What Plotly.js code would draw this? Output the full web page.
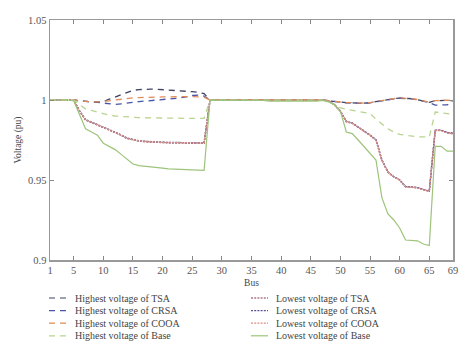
<!DOCTYPE html>
<html>
<head>
<meta charset="utf-8">
<script src="https://cdn.plot.ly/plotly-3.0.1.min.js"></script>
<style>html,body{margin:0;padding:0;background:#fff;}#chart{width:474px;height:358px;}</style>
</head>
<body>
<div id="chart"></div>
<script>
var bus = [];
for (var i = 1; i <= 69; i++) bus.push(i);

var flat28to46 = [1,1,1,1,1,1,1,1, 0.9999,0.9999,0.9998,0.9998,0.9998,0.9998,0.9998,0.9998,0.9998,0.9998,0.9998];

var highTSA = [1,1,1,1,1, 0.9995,0.999,0.9988,0.9988,0.999,1.0005,1.002,1.0035,1.005,1.006,1.0065,1.0068,1.0068,1.0067,1.0065,1.0063,1.006,1.0058,1.0055,1.0052,1.0048,1.004]
  .concat(flat28to46)
  .concat([1,0.9995,0.999,0.9985,0.9983,0.9982,0.998,0.998,0.9983,0.999,0.9997,1.0003,1.0008,1.0012,1.0012,1.0008,1.0002,0.9992,0.9985,0.9995,0.9997,0.9998,0.9995]);

var highCRSA = [1,1,1,1,1, 0.9995,0.999,0.9988,0.9985,0.998,0.9975,0.9972,0.9976,0.9982,0.9986,0.999,0.9993,0.9996,0.9998,1.0,1.0004,1.0008,1.0013,1.002,1.0028,1.003,1.0025]
  .concat(flat28to46)
  .concat([1,0.9995,0.999,0.9984,0.9982,0.9981,0.9979,0.9979,0.9982,0.9989,0.9996,1.0002,1.0007,1.0011,1.0011,1.0007,1.0001,0.9991,0.9984,0.9968,0.9968,0.997,0.9985]);

var highCOOA = [1,1,1,1,1, 0.9995,0.999,0.9988,0.9988,0.999,0.9995,1.0,1.0005,1.001,1.0013,1.0015,1.0017,1.0018,1.0018,1.0019,1.002,1.0021,1.0022,1.0022,1.0021,1.002,1.0018]
  .concat(flat28to46)
  .concat([1,0.9995,0.999,0.9986,0.9984,0.9983,0.9981,0.9981,0.9984,0.9991,0.9998,1.0004,1.0009,1.0013,1.0013,1.0009,1.0003,0.9993,0.9986,0.9996,0.9998,0.9999,0.9996]);

var highBase = [1,1,1,1,1, 0.997,0.9945,0.9935,0.9925,0.9912,0.9905,0.99,0.9897,0.9895,0.989,0.989,0.9889,0.9888,0.9887,0.9887,0.9886,0.9886,0.9886,0.9885,0.9885,0.9885,0.9885]
  .concat([1,1,1,1,1,1,1,1, 0.9999,0.9999,0.9998,0.9998,0.9997,0.9997,0.9997,0.9997,0.9997,0.9997,0.9997])
  .concat([1,0.999,0.997,0.995,0.9942,0.9935,0.993,0.9925,0.9915,0.988,0.985,0.982,0.98,0.9785,0.978,0.9775,0.977,0.977,0.9768,0.9925,0.992,0.9915,0.991]);

var lowTSA = [1,1,1,1,1, 0.993,0.9875,0.986,0.9845,0.983,0.9815,0.98,0.978,0.976,0.975,0.9743,0.974,0.9737,0.9735,0.9734,0.9733,0.9732,0.9732,0.9731,0.9731,0.973,0.973]
  .concat([1,1,1,1,1,1,0.9999,0.9999, 0.9998,0.9998,0.9997,0.9997,0.9996,0.9996,0.9996,0.9996,0.9996,0.9996,0.9996])
  .concat([1,0.9995,0.997,0.993,0.9865,0.9855,0.983,0.981,0.978,0.975,0.9625,0.955,0.952,0.95,0.9458,0.9455,0.9452,0.944,0.943,0.981,0.981,0.9795,0.979]);

var lowCRSA = [1,1,1,1,1, 0.9932,0.9877,0.9862,0.9847,0.9832,0.9817,0.9802,0.9782,0.9762,0.9752,0.9745,0.9742,0.9739,0.9737,0.9736,0.9735,0.9734,0.9734,0.9733,0.9733,0.9732,0.9732]
  .concat([1,1,1,1,1,1,0.9999,0.9999, 0.9998,0.9998,0.9997,0.9997,0.9996,0.9996,0.9996,0.9996,0.9996,0.9996,0.9996])
  .concat([1,0.9995,0.9971,0.9931,0.9866,0.9856,0.9831,0.9811,0.9781,0.9751,0.9626,0.9551,0.9521,0.9501,0.9459,0.9456,0.9453,0.9441,0.9431,0.9812,0.9812,0.9797,0.9792]);

var lowCOOA = [1,1,1,1,1, 0.9931,0.9876,0.9861,0.9846,0.9831,0.9816,0.9801,0.9781,0.9761,0.9751,0.9744,0.9741,0.9738,0.9736,0.9735,0.9734,0.9733,0.9733,0.9732,0.9732,0.9731,0.9731]
  .concat([1,1,1,1,1,1,0.9999,0.9999, 0.9998,0.9998,0.9997,0.9997,0.9996,0.9996,0.9996,0.9996,0.9996,0.9996,0.9996])
  .concat([1,0.9995,0.997,0.993,0.9864,0.9854,0.9829,0.9809,0.9779,0.9749,0.9624,0.9549,0.9519,0.9499,0.9457,0.9454,0.9451,0.9439,0.9429,0.9809,0.9809,0.9794,0.9789]);

var lowBase = [1,1,1,1,0.9995, 0.991,0.982,0.98,0.978,0.973,0.971,0.969,0.966,0.963,0.96,0.959,0.9585,0.958,0.9577,0.9574,0.957,0.9568,0.9566,0.9565,0.9563,0.9562,0.956]
  .concat([0.9999,0.9999,0.9999,0.9999,0.9999,0.9999,0.9999,0.9999, 0.9997,0.9997,0.9993,0.9993,0.9993,0.9993,0.9993,0.9993,0.9993,0.9993,0.9993])
  .concat([0.9998,0.9988,0.997,0.993,0.98,0.979,0.975,0.971,0.967,0.9625,0.939,0.929,0.925,0.92,0.9125,0.9122,0.912,0.91,0.909,0.971,0.971,0.968,0.968]);

var seriesNames = ["Highest voltage of TSA","Lowest voltage of TSA","Highest voltage of CRSA","Lowest voltage of CRSA","Highest voltage of COOA","Lowest voltage of COOA","Highest voltage of Base","Lowest voltage of Base"];
var seriesData = [highTSA, lowTSA, highCRSA, lowCRSA, highCOOA, lowCOOA, highBase, lowBase];
var colors = ["#3c4262","#8a3548","#4a55a8","#5d4f98","#e08a55","#d89080","#b9d48e","#9cc47a"];
var dashes = ["6px,5px","2px,1.2px","6px,5px","2px,1.2px","6px,5px","2px,1.2px","6px,5px","solid"];
var widths = [1.3,1.4,1.3,1.4,1.3,1.4,1.3,1.2];

var xTicks = [1,5,10,15,20,25,30,35,40,45,50,55,60,65,69];
var yTicks = [0.9,0.95,1,1.05];
var yTickText = ["0.9","0.95","1","1.05"];

var traces = seriesData.map(function(d, k){
  return {x: bus, y: d, type: "scatter", mode: "lines", name: seriesNames[k],
    line: {color: colors[k], dash: dashes[k], width: widths[k]}};
});

// Manual two-column legend (paper coordinates; plot area 403x240 px)
var plotW = 403, plotH = 240;
var shapes = [], annotations = [];
seriesNames.forEach(function(name, k){
  var col = k % 2, row = Math.floor(k / 2);
  var ypx = 38 + row * 12.6;
  var yp = -ypx / plotH;
  var sx0 = col === 0 ? -1 : 201, sx1 = col === 0 ? 16 : 218;
  var tx = col === 0 ? 23 : 224;
  shapes.push({type: "line", xref: "paper", yref: "paper", x0: sx0 / plotW, x1: sx1 / plotW, y0: yp, y1: yp,
    line: {color: colors[k], dash: dashes[k], width: 1.2}});
  annotations.push({xref: "paper", yref: "paper", x: tx / plotW, y: yp, xanchor: "left", yanchor: "middle",
    text: name, showarrow: false, font: {family: "Liberation Serif, serif", size: 10, color: "#444"}});
});

var axisFont = {family: "Liberation Serif, serif", size: 10.5, color: "#555"};
var layout = {
  width: 474, height: 358,
  margin: {l: 50, r: 21, t: 20, b: 98},
  paper_bgcolor: "#fff", plot_bgcolor: "#fff",
  showlegend: false,
  font: {family: "Liberation Serif, serif", color: "#444"},
  xaxis: {range: [1, 69], tickvals: xTicks, ticks: "inside", ticklen: 4, tickcolor: "#888",
    showline: true, linecolor: "#999", linewidth: 1.5, mirror: "ticks", showgrid: false, zeroline: false,
    tickfont: axisFont, title: {text: "Bus", font: {family: "Liberation Serif, serif", size: 9.5, color: "#444"}, standoff: 4}},
  yaxis: {range: [0.9, 1.05], tickvals: yTicks, ticktext: yTickText, ticks: "inside", ticklen: 4, tickcolor: "#888",
    showline: true, linecolor: "#999", linewidth: 1.5, mirror: "ticks", showgrid: false, zeroline: false,
    tickfont: axisFont, title: {text: "Voltage (pu)", font: {family: "Liberation Serif, serif", size: 9.5, color: "#444"}, standoff: 4}},
  shapes: shapes,
  annotations: annotations
};

Plotly.newPlot("chart", traces, layout, {displayModeBar: false, staticPlot: true});
</script>
</body>
</html>
